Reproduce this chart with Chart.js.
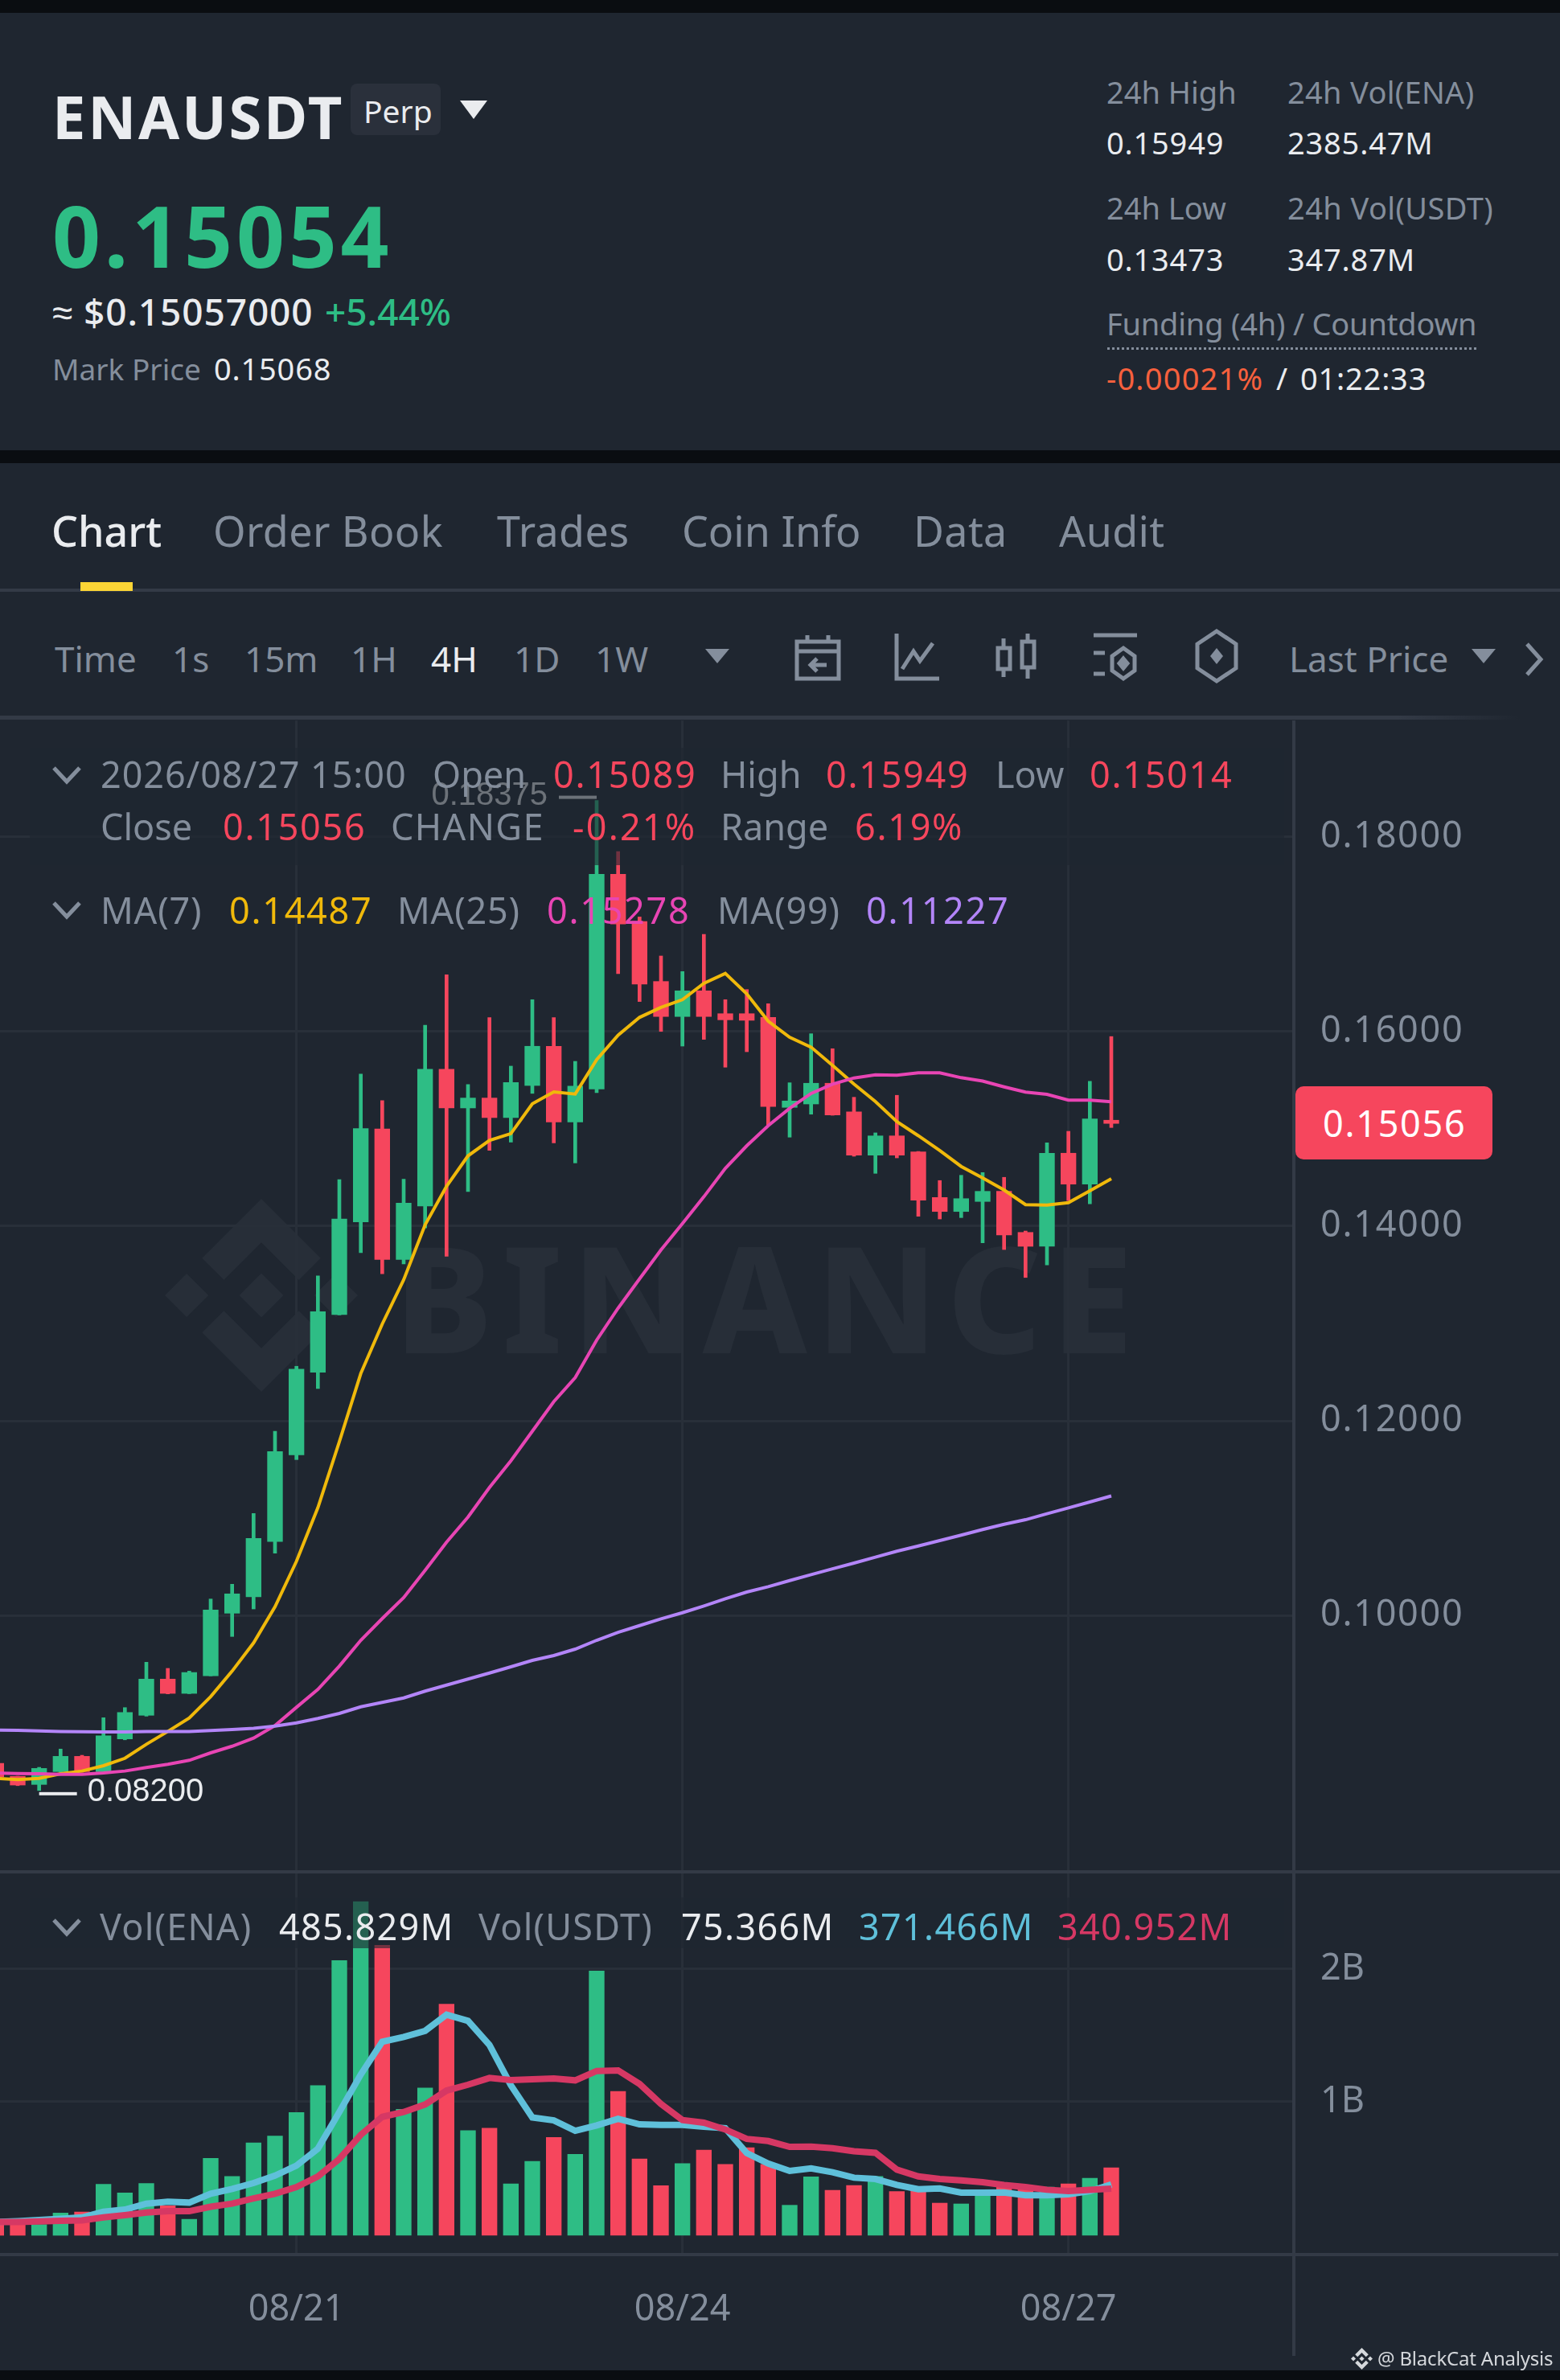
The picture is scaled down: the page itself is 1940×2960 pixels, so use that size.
<!DOCTYPE html>
<html>
<head>
<meta charset="utf-8">
<title>ENAUSDT</title>
<script src="https://cdn.jsdelivr.net/npm/chart.js@4/dist/chart.umd.min.js"></script>
<style>
html,body{margin:0;padding:0;background:#0a0d11}
#page{position:relative;width:1940px;height:2960px;overflow:hidden;background:#1f2630;font-family:"Noto Sans",sans-serif;color:#eaecef}
.band{position:absolute;left:0;width:1940px;background:#0a0d11}
.line{position:absolute;background:#333a46}
.t{position:absolute;white-space:nowrap;line-height:1;transform:translateY(-50%)}
.g{color:#848e9c}
.w{color:#eaecef}
.r{color:#f6465d}
.up{color:#2ebd85}
.s38{font-size:38px}
.s44{font-size:44px}
.s45{font-size:45px;letter-spacing:.8px}
.s52{font-size:52px;letter-spacing:.4px}
.n38{font-size:38px;letter-spacing:.8px}
.n45{font-size:45px;letter-spacing:1.7px}
.m45{font-size:45px;letter-spacing:1.3px}
canvas{position:absolute;left:0}
svg{position:absolute}
.dim{position:absolute;left:37px;width:1560px;background:rgba(31,38,48,.62)}
</style>
</head>
<body>
<div id="page">
  <div class="band" style="top:0;height:16px"></div>
  <div class="band" style="top:560px;height:16px"></div>
  <div class="band" style="top:2948px;height:12px"></div>

  <!-- header -->
  <div class="t" style="left:65px;top:145px;font-size:74px;font-weight:700;letter-spacing:2.7px">ENAUSDT</div>
  <div style="position:absolute;left:436px;top:104px;width:112px;height:64px;background:#2a303b;border-radius:8px"></div>
  <div class="t" style="left:452px;top:137px;font-size:39px">Perp</div>
  <svg style="left:572px;top:125px" width="34" height="23"><polygon points="0,0 34,0 17,23" fill="#eaecef"/></svg>
  <div class="t up" style="left:65px;top:292px;font-size:105px;font-weight:700;letter-spacing:4.8px">0.15054</div>
  <div class="t w" style="left:65px;top:387px;font-size:46px;font-weight:500;letter-spacing:.9px">≈ $0.15057000</div>
  <div class="t up" style="left:404px;top:387px;font-size:46px;font-weight:500">+5.44%</div>
  <div class="t g" style="left:65px;top:458px;font-size:37px">Mark Price</div>
  <div class="t w n38" style="left:266px;top:458px">0.15068</div>

  <div class="t g s38" style="left:1376px;top:114px">24h High</div>
  <div class="t g s38" style="left:1601px;top:114px;letter-spacing:.3px">24h Vol(ENA)</div>
  <div class="t w n38" style="left:1376px;top:177px">0.15949</div>
  <div class="t w n38" style="left:1601px;top:177px">2385.47M</div>
  <div class="t g s38" style="left:1376px;top:258px">24h Low</div>
  <div class="t g s38" style="left:1601px;top:258px;letter-spacing:.4px">24h Vol(USDT)</div>
  <div class="t w n38" style="left:1376px;top:322px">0.13473</div>
  <div class="t w n38" style="left:1601px;top:322px">347.87M</div>
  <div class="t g" style="left:1376px;top:402px;font-size:38px;letter-spacing:-.2px">Funding (4h) / Countdown</div>
  <div style="position:absolute;left:1377px;top:432px;width:459px;border-top:3px dotted #848e9c"></div>
  <div class="t" style="left:1376px;top:470px;font-size:38px;letter-spacing:1.2px;color:#f6603d">-0.00021%</div>
  <div class="t w s38" style="left:1587px;top:470px">/</div>
  <div class="t w n38" style="left:1617px;top:470px">01:22:33</div>

  <!-- tabs -->
  <div class="t w s52" style="left:64px;top:660px;font-weight:500;letter-spacing:0">Chart</div>
  <div class="t g s52" style="left:265px;top:660px">Order Book</div>
  <div class="t g s52" style="left:618px;top:660px">Trades</div>
  <div class="t g s52" style="left:848px;top:660px;letter-spacing:0">Coin Info</div>
  <div class="t g s52" style="left:1136px;top:660px">Data</div>
  <div class="t g s52" style="left:1317px;top:660px">Audit</div>
  <div class="line" style="left:0;top:732px;width:1940px;height:4px"></div>
  <div style="position:absolute;left:100px;top:724px;width:65px;height:11px;background:#fcd535"></div>

  <!-- toolbar -->
  <div class="t g s44" style="left:68px;top:819px">Time</div>
  <div class="t g s44" style="left:214px;top:819px">1s</div>
  <div class="t g s44" style="left:304px;top:819px">15m</div>
  <div class="t g s44" style="left:436px;top:819px">1H</div>
  <div class="t w s44" style="left:536px;top:819px">4H</div>
  <div class="t g s44" style="left:639px;top:819px">1D</div>
  <div class="t g s44" style="left:740px;top:819px">1W</div>
  <svg style="left:877px;top:807px" width="30" height="18"><polygon points="0,0 30,0 15,18" fill="#848e9c"/></svg>
  <svg style="left:988px;top:788px" width="58" height="60" fill="none" stroke="#848e9c" stroke-width="5">
    <rect x="3" y="10" width="52" height="46"/><path d="M3 22H55M16 2V12M42 2V12M40 39H20M28 31L20 39L28 47"/>
  </svg>
  <svg style="left:1112px;top:786px" width="58" height="62" fill="none" stroke="#848e9c" stroke-width="5">
    <path d="M3 2V58H56M10 46L24 24L32 36L48 14"/>
  </svg>
  <svg style="left:1238px;top:786px" width="54" height="62" fill="none" stroke="#848e9c" stroke-width="5">
    <rect x="3" y="20" width="15" height="26"/><rect x="33" y="12" width="15" height="32"/><path d="M10 8V20M10 46V56M40 2V12M40 44V58"/>
  </svg>
  <svg style="left:1358px;top:786px" width="58" height="62" fill="none" stroke="#848e9c" stroke-width="5">
    <path d="M2 4H56M2 26H16M2 52H16"/><polygon points="39,20 53,30 53,48 39,58 25,48 25,30"/><polygon points="39,33 44,39 39,45 34,39" fill="#848e9c"/>
  </svg>
  <svg style="left:1485px;top:782px" width="56" height="68" fill="none" stroke="#848e9c" stroke-width="5">
    <polygon points="28,3 52,19 52,49 28,65 4,49 4,19"/><polygon points="28,24 36,34 28,44 20,34" fill="#848e9c" stroke="none"/>
  </svg>
  <div class="t g s44" style="left:1603px;top:819px">Last Price</div>
  <svg style="left:1830px;top:807px" width="30" height="18"><polygon points="0,0 30,0 15,18" fill="#848e9c"/></svg>
  <svg style="left:1895px;top:798px" width="26" height="44" fill="none" stroke="#848e9c" stroke-width="5"><path d="M4 3L21 22L4 41"/></svg>
  <div style="position:absolute;left:0;top:890px;width:1890px;height:5px;background:linear-gradient(90deg,#333a46 92%,#1f2630)"></div>

  <!-- watermark goes under the transparent canvases -->
  <svg style="left:205px;top:1491px" width="240" height="240" viewBox="0 0 126.61 126.61" fill="#272e38">
    <path d="M38.73 53.2l24.59-24.58 24.6 24.6 14.3-14.31L63.32 0 24.42 38.9zM0 63.31l14.3-14.31 14.31 14.31-14.31 14.3zM38.73 73.41l24.59 24.59 24.6-24.6 14.31 14.29-38.9 38.91-38.91-38.88zM98 63.31l14.3-14.31 14.31 14.3-14.31 14.32zM77.83 63.3L63.32 48.78 52.59 59.51l-1.24 1.23-2.54 2.54 14.51 14.5 14.51-14.47z"/>
  </svg>
  <div class="t" style="left:490px;top:1612px;font-size:184px;font-weight:800;color:#272e38;letter-spacing:11px">BINANCE</div>

  <canvas id="priceChart" width="1940" height="1432" style="top:896px"></canvas>
  <canvas id="volumeChart" width="1940" height="600" style="top:2330px"></canvas>

  <!-- legend rows dim what is behind them -->
  <div class="dim" style="top:930px;height:146px"></div>
  <div class="dim" style="top:2360px;height:63px"></div>

  <svg style="left:64px;top:952px" width="38" height="24" fill="none" stroke="#848e9c" stroke-width="5"><path d="M3 3L19 20L35 3"/></svg>
  <div class="t g s45" style="left:125px;top:962px;letter-spacing:.9px">2026/08/27 15:00</div>
  <div class="t g s45" style="left:538px;top:962px;letter-spacing:0">Open</div>
  <div class="t r n45" style="left:688px;top:962px">0.15089</div>
  <div class="t g s45" style="left:896px;top:962px;letter-spacing:0">High</div>
  <div class="t r n45" style="left:1027px;top:962px">0.15949</div>
  <div class="t g s45" style="left:1238px;top:962px;letter-spacing:0">Low</div>
  <div class="t r n45" style="left:1355px;top:962px">0.15014</div>
  <div class="t g s45" style="left:125px;top:1027px;letter-spacing:0">Close</div>
  <div class="t r n45" style="left:277px;top:1027px">0.15056</div>
  <div class="t g s45" style="left:486px;top:1027px;letter-spacing:1.4px">CHANGE</div>
  <div class="t r n45" style="left:712px;top:1027px;letter-spacing:2.2px">-0.21%</div>
  <div class="t g s45" style="left:896px;top:1027px;letter-spacing:0">Range</div>
  <div class="t r n45" style="left:1063px;top:1027px">6.19%</div>

  <svg style="left:64px;top:1120px" width="38" height="24" fill="none" stroke="#848e9c" stroke-width="5"><path d="M3 3L19 20L35 3"/></svg>
  <div class="t g s45" style="left:125px;top:1131px">MA(7)</div>
  <div class="t n45" style="left:285px;top:1131px;color:#f0b90b">0.14487</div>
  <div class="t g s45" style="left:494px;top:1131px">MA(25)</div>
  <div class="t n45" style="left:680px;top:1131px;color:#e845b4">0.15278</div>
  <div class="t g s45" style="left:892px;top:1131px">MA(99)</div>
  <div class="t n45" style="left:1077px;top:1131px;color:#b385f8">0.11227</div>

  <svg style="left:64px;top:2385px" width="38" height="24" fill="none" stroke="#848e9c" stroke-width="5"><path d="M3 3L19 20L35 3"/></svg>
  <div class="t g s45" style="left:124px;top:2395px;letter-spacing:1.2px">Vol(ENA)</div>
  <div class="t w m45" style="left:347px;top:2395px">485.829M</div>
  <div class="t g s45" style="left:595px;top:2395px;letter-spacing:1.2px">Vol(USDT)</div>
  <div class="t w m45" style="left:847px;top:2395px">75.366M</div>
  <div class="t m45" style="left:1068px;top:2395px;color:#5fc0da">371.466M</div>
  <div class="t m45" style="left:1315px;top:2395px;color:#d63864">340.952M</div>

  <!-- pane borders -->
  <div class="line" style="left:1607px;top:896px;width:4px;height:2034px"></div>
  <div class="line" style="left:0;top:2326px;width:1940px;height:4px"></div>
  <div class="line" style="left:0;top:2802px;width:1938px;height:4px"></div>

  <div style="position:absolute;left:1611px;top:1351px;width:245px;height:91px;background:#f6465d;border-radius:10px"></div>
  <div class="t n45" style="left:1645px;top:1396px;color:#fff">0.15056</div>

  <svg style="left:1680px;top:2920px" width="27" height="27" viewBox="0 0 126.61 126.61" fill="#d5d8dc">
    <path d="M38.73 53.2l24.59-24.58 24.6 24.6 14.3-14.31L63.32 0 24.42 38.9zM0 63.31l14.3-14.31 14.31 14.31-14.31 14.3zM38.73 73.41l24.59 24.59 24.6-24.6 14.31 14.29-38.9 38.91-38.91-38.88zM98 63.31l14.3-14.31 14.31 14.3-14.31 14.32zM77.83 63.3L63.32 48.78 52.59 59.51l-1.24 1.23-2.54 2.54 14.51 14.5 14.51-14.47z"/>
  </svg>
  <div class="t" style="left:1713px;top:2933px;font-size:24px;color:#d5d8dc;letter-spacing:-.2px">@ BlackCat Analysis</div>
</div>

<script>
const opens = [0.08479,0.08345,0.08262,0.08394,0.08551,0.08394,0.08730,0.08973,0.09345,0.09198,0.09380,0.10022,0.10190,0.10760,0.11650,0.12498,0.13091,0.14045,0.15000,0.13657,0.14207,0.15612,0.15215,0.15317,0.15116,0.15446,0.15849,0.15070,0.15409,0.17617,0.17131,0.16515,0.16155,0.16419,0.16184,0.16184,0.16146,0.15221,0.15256,0.15469,0.15174,0.14730,0.14928,0.14764,0.14295,0.14151,0.14254,0.14358,0.13936,0.13793,0.14750,0.14432,0.15089];
const highs = [0.08488,0.08347,0.08438,0.08626,0.08562,0.08948,0.09052,0.09518,0.09455,0.09427,0.10168,0.10320,0.11047,0.11893,0.12560,0.13490,0.14479,0.15564,0.15291,0.14483,0.16066,0.16583,0.15455,0.16144,0.15645,0.16328,0.16144,0.15694,0.18375,0.17851,0.17178,0.16777,0.16617,0.17000,0.16328,0.16432,0.16287,0.15474,0.15978,0.15824,0.15325,0.14959,0.15345,0.14768,0.14469,0.14523,0.14551,0.14502,0.13950,0.14857,0.14975,0.15488,0.15949];
const lows = [0.08331,0.08250,0.08200,0.08388,0.08388,0.08392,0.08721,0.08964,0.09193,0.09195,0.09378,0.09783,0.10066,0.10639,0.11601,0.12331,0.13088,0.13727,0.13512,0.13612,0.13983,0.13690,0.14355,0.14779,0.14864,0.15365,0.14856,0.14650,0.15372,0.16595,0.16309,0.16002,0.15851,0.15920,0.15634,0.15793,0.15041,0.14915,0.15151,0.15140,0.14719,0.14543,0.14702,0.14102,0.14074,0.14088,0.13829,0.13760,0.13473,0.13601,0.14262,0.14229,0.15014];
const closes = [0.08339,0.08256,0.08427,0.08551,0.08394,0.08763,0.09002,0.09345,0.09198,0.09413,0.10055,0.10221,0.10791,0.11683,0.12531,0.13121,0.14074,0.15003,0.13657,0.14236,0.15612,0.15215,0.15317,0.15116,0.15476,0.15849,0.15070,0.15439,0.17617,0.17105,0.16488,0.16155,0.16419,0.16155,0.16121,0.16116,0.15229,0.15287,0.15469,0.15143,0.14730,0.14928,0.14730,0.14267,0.14151,0.14283,0.14358,0.13909,0.13793,0.14750,0.14432,0.15102,0.15056];

const ma7 = [0.08325,0.08312,0.08325,0.08372,0.08400,0.08455,0.08531,0.08675,0.08807,0.08945,0.09165,0.09427,0.09717,0.10088,0.10556,0.11107,0.11785,0.12485,0.12994,0.13449,0.14014,0.14410,0.14723,0.14882,0.14952,0.15258,0.15380,0.15358,0.15711,0.15963,0.16146,0.16248,0.16328,0.16496,0.16598,0.16388,0.16107,0.15942,0.15840,0.15653,0.15460,0.15281,0.15074,0.14930,0.14777,0.14614,0.14496,0.14372,0.14221,0.14217,0.14242,0.14364,0.14487];
const ma25 = [0.08380,0.08374,0.08372,0.08366,0.08366,0.08380,0.08400,0.08436,0.08469,0.08510,0.08587,0.08655,0.08738,0.08868,0.09055,0.09240,0.09479,0.09744,0.09967,0.10182,0.10463,0.10752,0.11011,0.11314,0.11589,0.11893,0.12196,0.12444,0.12829,0.13157,0.13459,0.13756,0.14027,0.14303,0.14595,0.14826,0.15033,0.15212,0.15364,0.15460,0.15523,0.15556,0.15551,0.15576,0.15576,0.15526,0.15491,0.15432,0.15378,0.15355,0.15295,0.15295,0.15278];
const ma99 = [0.08821,0.08818,0.08813,0.08807,0.08804,0.08802,0.08802,0.08807,0.08807,0.08807,0.08816,0.08826,0.08840,0.08862,0.08895,0.08940,0.08992,0.09060,0.09105,0.09151,0.09221,0.09283,0.09345,0.09407,0.09471,0.09537,0.09587,0.09653,0.09744,0.09826,0.09895,0.09964,0.10027,0.10097,0.10171,0.10240,0.10295,0.10358,0.10419,0.10479,0.10537,0.10598,0.10659,0.10713,0.10769,0.10824,0.10882,0.10936,0.10983,0.11044,0.11105,0.11165,0.11227];

// volumes in millions
const volumes = [71,91,71,158,166,376,310,381,213,111,571,435,688,739,917,1121,2064,2510,2180,941,1103,1735,781,799,378,549,729,601,1986,1077,567,364,532,634,526,652,526,217,431,330,366,435,320,334,233,227,304,354,334,354,378,421,500];
const volMaFast = [91,97,105,115,125,168,184,229,243,237,304,340,385,441,516,644,921,1204,1451,1488,1534,1656,1609,1427,1123,880,858,779,820,870,828,824,824,810,799,611,532,476,496,466,425,415,370,338,344,312,312,314,293,293,300,324,374];
const volMaSlow = [91,91,95,99,103,125,142,162,172,172,206,229,269,304,354,435,567,749,884,921,978,1083,1127,1178,1162,1168,1174,1160,1231,1235,1133,982,860,840,789,718,702,658,660,648,625,613,486,435,415,405,391,370,354,334,324,334,342];

const priceTicks = [0.18,0.16,0.14,0.12,0.10];
const volumeTicks = [2000,1000];
const dateTicks = [14,32,50];
const dateLabels = ['08/21','08/24','08/27'];

const UP = '#2ebd85';
const DOWN = '#f6465d';
const GRID = '#282f39';
const TICK = '#848e9c';

const barColors = closes.map((c, i) => (c >= opens[i] ? UP : DOWN));
const points = (values) => values.map((v, i) => ({ x: i, y: v }));
const ranges = (a, b) => a.map((v, i) => ({ x: i, y: [v, b[i]] }));

const xScale = (showLabels) => ({
    type: 'linear',
    min: 0.175,
    max: 60.475,
    offset: false,
    afterBuildTicks: (s) => { s.ticks = dateTicks.map((v) => ({ value: v })); },
    afterFit: (s) => {
        s.height = showLabels ? 127 : 0;
        s.paddingLeft = 0;
        s.paddingRight = 0;
    },
    grid: { color: GRID, lineWidth: 3, offset: false, drawTicks: false },
    border: { display: false },
    ticks: {
        display: showLabels,
        autoSkip: false,
        maxRotation: 0,
        padding: 43,
        color: TICK,
        font: { family: 'Noto Sans', size: 45 },
        callback: (v) => dateLabels[dateTicks.indexOf(v)],
    },
});

const yScale = (min, max, ticks, format) => ({
    position: 'right',
    min,
    max,
    afterBuildTicks: (s) => { s.ticks = ticks.map((v) => ({ value: v })); },
    afterFit: (s) => {
        s.width = 332;
        s.paddingTop = 0;
        s.paddingBottom = 0;
    },
    grid: { color: GRID, lineWidth: 3, drawTicks: false },
    border: { display: false },
    ticks: {
        autoSkip: false,
        padding: 34,
        color: TICK,
        font: { family: 'Noto Sans', size: 45 },
        callback: format,
    },
});

const maLine = (values, color, width, order) => ({
    type: 'line',
    data: points(values),
    borderColor: color,
    borderWidth: width,
    pointRadius: 0,
    tension: 0,
    order,
});

// high and low markers on the price pane, plus wider digits on the axis
const pricePlugin = {
    id: 'priceMarkers',
    beforeDraw(chart) {
        chart.ctx.letterSpacing = '1.7px';
    },
    afterDatasetsDraw(chart) {
        const { ctx, scales } = chart;
        const peak = highs.indexOf(Math.max(...highs));
        const bottom = lows.indexOf(Math.min(...lows));
        ctx.save();
        ctx.letterSpacing = '0px';
        ctx.font = '40px "Liberation Sans"';
        ctx.fillStyle = '#eaecef';
        ctx.textBaseline = 'middle';

        let x = scales.x.getPixelForValue(peak);
        let y = scales.y.getPixelForValue(highs[peak]);
        ctx.fillRect(x - 47, y - 6, 47, 4);
        ctx.textAlign = 'right';
        ctx.fillText(highs[peak].toFixed(5), x - 61, y - 6);

        x = scales.x.getPixelForValue(bottom);
        y = scales.y.getPixelForValue(lows[bottom]);
        ctx.fillRect(x, y + 2, 47, 4);
        ctx.textAlign = 'left';
        ctx.fillText(lows[bottom].toFixed(5), x + 60, y + 2);
        ctx.restore();
    },
};

new Chart(document.getElementById('priceChart'), {
    type: 'bar',
    data: {
        datasets: [
            { data: ranges(opens, closes), backgroundColor: barColors, barThickness: 18.7, grouped: false, order: 4 },
            { data: ranges(lows, highs), backgroundColor: barColors, barThickness: 4, grouped: false, order: 5 },
            maLine(ma7, '#f0b90b', 4, 3),
            maLine(ma25, '#e845b4', 4, 2),
            maLine(ma99, '#b385f8', 4, 1),
        ],
    },
    options: {
        responsive: false,
        animation: false,
        devicePixelRatio: 1,
        layout: { padding: 0 },
        plugins: { legend: { display: false }, tooltip: { enabled: false } },
        scales: {
            x: xScale(false),
            y: yScale(0.07364, 0.19198, priceTicks, (v) => v.toFixed(5)),
        },
    },
    plugins: [pricePlugin],
});

new Chart(document.getElementById('volumeChart'), {
    type: 'bar',
    data: {
        datasets: [
            { data: points(volumes), backgroundColor: barColors, barThickness: 18.7, grouped: false, base: -10, order: 3 },
            maLine(volMaFast, '#5fc0da', 8, 2),
            maLine(volMaSlow, '#d63864', 8, 1),
        ],
    },
    options: {
        responsive: false,
        animation: false,
        devicePixelRatio: 1,
        layout: { padding: 0 },
        plugins: { legend: { display: false }, tooltip: { enabled: false } },
        scales: {
            x: xScale(true),
            y: yScale(-149.4, 2722.5, volumeTicks, (v) => v / 1000 + 'B'),
        },
    },
});
</script>
</body>
</html>
